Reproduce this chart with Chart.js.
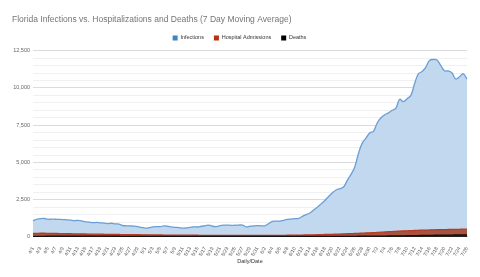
<!DOCTYPE html>
<html>
<head>
<meta charset="utf-8">
<script src="https://cdn.jsdelivr.net/npm/chart.js@4"></script>
<style>
  html, body { margin: 0; padding: 0; background: #fff; }
  #box { width: 480px; height: 277px; position: relative; }
</style>
</head>
<body>
<div id="box"><canvas id="grafico"></canvas></div>
<script>
// dias de 4/1 a 7/26
const meses = [[4, 30], [5, 31], [6, 30], [7, 26]];
const datas = [];
meses.forEach(([mes, dias]) => {
  for (let d = 1; d <= dias; d++) datas.push(mes + "/" + d);
});

const infeccoes = [
  1090, 1180, 1230, 1240, 1180, 1200, 1190, 1180, 1170, 1150,
  1130, 1100, 1110, 1080, 1020, 1000, 960, 980, 950, 930,
  900, 920, 880, 860, 770, 750, 740, 730, 700, 640,
  590, 620, 680, 700, 690, 750, 720, 680, 650, 630,
  590, 610, 650, 680, 670, 720, 750, 790, 720, 700,
  760, 790, 800, 780, 790, 800, 790, 680, 720, 750,
  760, 750, 750, 900, 1040, 1060, 1070, 1120, 1180, 1200,
  1230, 1240, 1380, 1500, 1610, 1810, 2000, 2220, 2450, 2720,
  2950, 3150, 3240, 3350, 3800, 4200, 4700, 5620, 6300, 6640,
  6980, 7090, 7650, 8000, 8200, 8330, 8500, 8650, 9240, 9080,
  9280, 9500, 10300, 10950, 11100, 11400, 11850, 11910, 11870, 11500,
  11150, 11140, 11000, 10600, 10750, 10950, 10600
];

const internacoes = [
  240, 245, 250, 250, 245, 240, 235, 230, 225, 220,
  215, 210, 205, 200, 200, 195, 190, 185, 185, 180,
  175, 175, 170, 165, 160, 160, 155, 150, 150, 145,
  145, 140, 140, 135, 135, 130, 130, 125, 125, 120,
  120, 120, 118, 115, 115, 112, 110, 110, 108, 108,
  105, 105, 105, 105, 103, 103, 102, 100, 100, 100, 100,
  100, 100, 102, 105, 108, 110, 112, 115, 118, 120,
  125, 130, 135, 140, 145, 150, 158, 165, 172, 180,
  188, 195, 205, 215, 225, 235, 245, 255, 265, 275,
  290, 305, 320, 335, 350, 365, 380, 395, 405, 415,
  425, 435, 445, 455, 462, 470, 478, 485, 490, 495,
  500, 505, 510, 515, 520, 525
];

const mortes = [
  30, 35, 40, 45, 50, 52, 55, 57, 58, 60,
  60, 58, 57, 55, 54, 55, 56, 55, 54, 53,
  52, 50, 48, 47, 46, 45, 44, 44, 43, 42,
  42, 41, 40, 40, 39, 39, 40, 40, 41, 41,
  40, 39, 38, 38, 37, 37, 36, 36, 36, 35,
  35, 35, 34, 34, 33, 33, 33, 32, 32, 32, 31,
  31, 31, 32, 32, 32, 33, 33, 33, 34, 34,
  35, 35, 36, 36, 37, 38, 38, 39, 40, 40,
  41, 42, 43, 44, 45, 46, 47, 48, 50, 52,
  55, 58, 60, 62, 65, 68, 70, 74, 78, 82,
  86, 90, 95, 100, 104, 108, 112, 116, 120, 124,
  128, 130, 132, 134, 136, 138
];

const marcasY = [0, 2500, 5000, 7500, 10000, 12500];

const fonte = "'Liberation Sans', Arial, sans-serif";
const coresLegenda = ["#3d85c6", "#b7300f", "#000000"];

new Chart(document.getElementById("grafico"), {
  type: "line",
  data: {
    labels: datas,
    datasets: [
      {
        label: "Infections",
        data: infeccoes,
        borderColor: "#6a9fd6",
        backgroundColor: "#c2d8ee",
        borderWidth: 1.3,
        fill: "origin",
        order: 3
      },
      {
        label: "Hospital Admissions",
        data: internacoes,
        borderColor: "#b83a22",
        backgroundColor: "#a8533f",
        borderWidth: 1.3,
        fill: "origin",
        order: 2
      },
      {
        label: "Deaths",
        data: mortes,
        borderColor: "#111111",
        backgroundColor: "#222222",
        borderWidth: 1.3,
        fill: "origin",
        order: 1
      }
    ]
  },
  options: {
    responsive: true,
    maintainAspectRatio: false,
    animation: false,
    elements: {
      point: { radius: 0 },
      line: { tension: 0.4 }
    },
    layout: {
      padding: { left: 12, right: 13, top: 15, bottom: 12 }
    },
    plugins: {
      title: {
        display: true,
        text: "Florida Infections vs. Hospitalizations and Deaths (7 Day Moving Average)",
        align: "start",
        color: "#757575",
        font: { family: fonte, size: 8.5, weight: "normal" },
        padding: { top: 0, bottom: 0 }
      },
      legend: {
        display: true,
        labels: {
          font: { family: fonte, size: 5.5 },
          color: "#333",
          boxWidth: 5,
          boxHeight: 5,
          padding: 10,
          sort: (a, b) => a.datasetIndex - b.datasetIndex,
          generateLabels: chart => Chart.defaults.plugins.legend.labels.generateLabels(chart).map(item => ({
            ...item,
            fillStyle: coresLegenda[item.datasetIndex],
            strokeStyle: coresLegenda[item.datasetIndex],
            lineWidth: 0
          }))
        }
      },
      tooltip: { enabled: false }
    },
    scales: {
      x: {
        grid: { display: false },
        border: { display: true, color: "#cccccc" },
        ticks: {
          autoSkip: false,
          minRotation: 60,
          maxRotation: 60,
          padding: 1,
          color: "#555",
          font: { family: fonte, size: 5 },
          callback: (valor, indice) => indice % 2 === 0 ? datas[indice] : ""
        },
        title: {
          display: true,
          text: "Daily/Date",
          color: "#333",
          font: { family: fonte, size: 5.5 },
          padding: { top: 0, bottom: 0 }
        }
      },
      y: {
        min: 0,
        max: 12500,
        border: { display: false },
        afterFit: escala => { escala.width = 21; },
        grid: {
          drawTicks: false,
          color: ctx => marcasY.includes(ctx.tick.value) ? "#dcdcdc" : "#f0f0f0"
        },
        ticks: {
          stepSize: 500,
          autoSkip: false,
          padding: 3,
          color: "#666",
          font: { family: fonte, size: 5.5 },
          callback: valor => marcasY.includes(valor) ? valor.toLocaleString("en-US") : ""
        }
      }
    }
  }
});
</script>
</body>
</html>
